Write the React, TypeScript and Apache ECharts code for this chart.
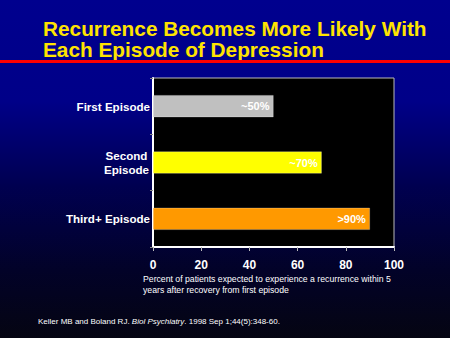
import React, { useEffect, useRef } from "react";
import * as echarts from "echarts";

const categories = ["First Episode", "Second\nEpisode", "Third+ Episode"];
const values = [50, 70, 90];
const barLabels = ["~50%", "~70%", ">90%"];
const barColors = ["#C0C0C0", "#FFFF00", "#FF9900"];
const xTicks = [0, 20, 40, 60, 80, 100];

const FONT = "Arial, 'Liberation Sans', sans-serif";

export default function App() {
  const ref = useRef<HTMLDivElement>(null);
  useEffect(() => {
    if (!ref.current) return;
    const chart = echarts.init(ref.current, null, { renderer: "svg" });
    chart.setOption({
      animation: false,
      backgroundColor: "transparent",
      title: {
        text: "Recurrence Becomes More Likely With\nEach Episode of Depression",
        left: 38,
        top: 13,
        textStyle: {
          color: "#FFE400",
          fontFamily: FONT,
          fontWeight: "bold",
          fontSize: 20.8,
          lineHeight: 21,
        },
      },
      graphic: [
        {
          type: "rect",
          left: 0,
          top: 60,
          shape: { width: 450, height: 3 },
          style: { fill: "#FF0000" },
          z: 10,
        },
        {
          type: "text",
          left: 143,
          top: 273,
          style: {
            text:
              "Percent of patients expected to experience a recurrence within 5\nyears after recovery from first episode",
            fill: "#FFFFFF",
            font: `8.7px ${FONT}`,
            lineHeight: 11,
          },
        },
        {
          type: "text",
          left: 38,
          top: 317,
          style: {
            text: "{a|Keller MB and Boland RJ. }{i|Biol Psychiatry}{a|. 1998 Sep 1;44(5):348-60.}",
            rich: {
              a: { fill: "#FFFFFF", fontFamily: FONT, fontSize: 8 },
              i: { fill: "#FFFFFF", fontFamily: FONT, fontSize: 8, fontStyle: "italic" },
            },
          },
        },
      ],
      grid: {
        left: 153,
        right: 56,
        top: 78,
        bottom: 91,
        show: true,
        backgroundColor: "#000000",
        borderColor: "#BBBBBB",
        borderWidth: 1,
      },
      xAxis: {
        type: "value",
        min: 0,
        max: 100,
        interval: 20,
        axisLine: { show: true, lineStyle: { color: "#FFFFFF", width: 2 } },
        axisTick: { show: true, length: 4, lineStyle: { color: "#BBBBBB" } },
        splitLine: { show: false },
        axisLabel: {
          color: "#FFFFFF",
          fontFamily: FONT,
          fontWeight: "bold",
          fontSize: 12,
          margin: 12,
          formatter: (v: number) => (xTicks.includes(v) ? String(v) : ""),
        },
      },
      yAxis: {
        type: "category",
        data: categories,
        inverse: true,
        axisLine: { show: true, lineStyle: { color: "#FFFFFF", width: 2 } },
        axisTick: { show: true, length: 3, lineStyle: { color: "#888888" } },
        axisLabel: {
          color: "#FFFFFF",
          fontFamily: FONT,
          fontWeight: "bold",
          fontSize: 11.6,
          margin: 3,
          lineHeight: 14,
          formatter: (v: string) =>
            v.includes("\n")
              ? v
                  .split("\n")
                  .map((s) => `{c|${s}}`)
                  .join("\n")
              : v,
          rich: {
            c: {
              color: "#FFFFFF",
              fontFamily: FONT,
              fontWeight: "bold",
              fontSize: 11.6,
              width: 47,
              align: "center",
              lineHeight: 14,
            },
          },
        },
      },
      series: [
        {
          type: "bar",
          barWidth: 22,
          data: values.map((v, i) => ({
            value: v,
            itemStyle: { color: barColors[i], borderColor: "rgba(255,255,255,0.5)", borderWidth: 0.5 },
            label: { formatter: barLabels[i] },
          })),
          label: {
            show: true,
            position: "insideRight",
            distance: 4,
            color: "#FFFFFF",
            fontFamily: FONT,
            fontWeight: "bold",
            fontSize: 11,
          },
        },
      ],
    });
    return () => chart.dispose();
  }, []);
  return (
    <div
      style={{
        position: "fixed",
        left: 0,
        top: 0,
        width: 450,
        height: 338,
        background:
          "linear-gradient(to bottom, #00008E 0%, #000088 30%, #000050 55%, #020228 80%, #050512 100%)",
      }}
    >
      <div ref={ref} style={{ width: 450, height: 338 }} />
    </div>
  );
}
